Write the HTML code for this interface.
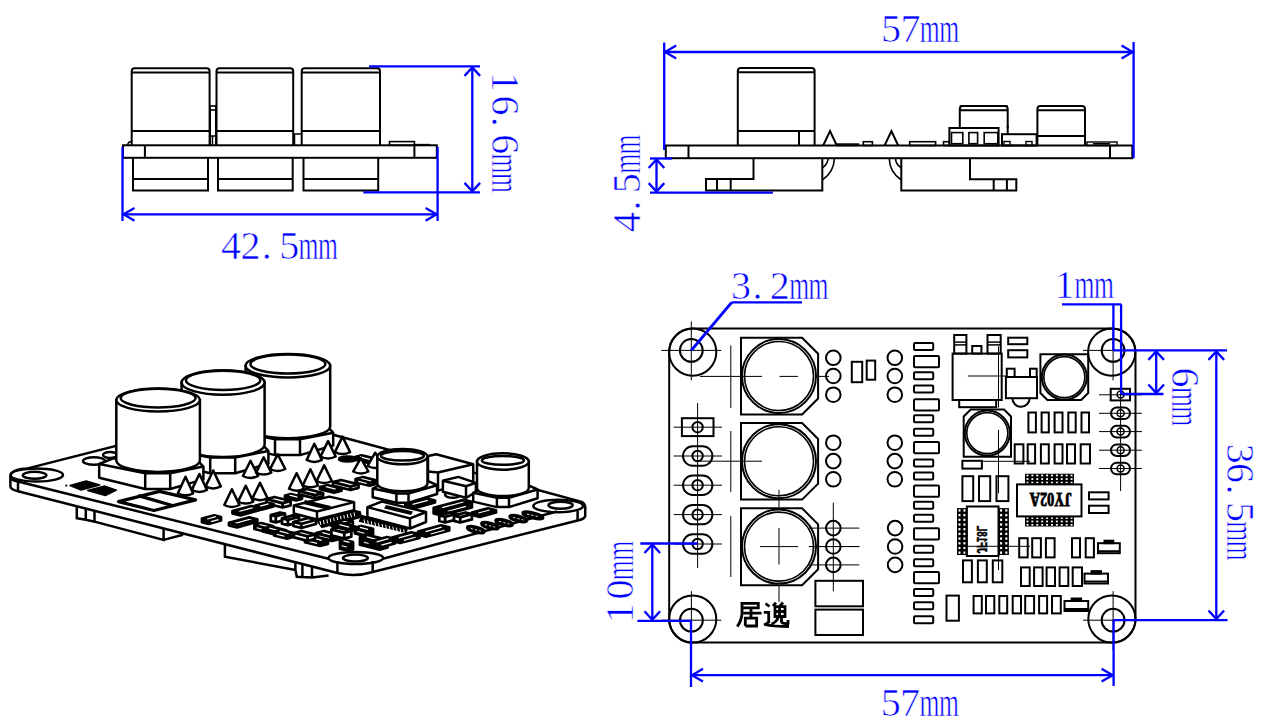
<!DOCTYPE html>
<html><head><meta charset="utf-8"><style>
html,body{margin:0;padding:0;background:#fff;width:1272px;height:723px;overflow:hidden}
svg{display:block}
text{font-family:"Liberation Serif",serif}
</style></head><body>
<svg width="1272" height="723" viewBox="0 0 1272 723" shape-rendering="geometricPrecision">
<rect x="0" y="0" width="1272" height="723" fill="#fff"/>
<path d="M131.7,145.3 L131.7,71.2 Q131.7,68.2 134.7,68.2 L206.6,68.2 Q209.6,68.2 209.6,71.2 L209.6,145.3" stroke="#000" stroke-width="2" fill="none" />
<line x1="131.7" y1="72.4" x2="209.6" y2="72.4" stroke="#000" stroke-width="2" />
<line x1="131.7" y1="131" x2="209.6" y2="131" stroke="#000" stroke-width="2" />
<path d="M216.5,145.3 L216.5,71.2 Q216.5,68.2 219.5,68.2 L290.2,68.2 Q293.2,68.2 293.2,71.2 L293.2,145.3" stroke="#000" stroke-width="2" fill="none" />
<line x1="216.5" y1="72.4" x2="293.2" y2="72.4" stroke="#000" stroke-width="2" />
<line x1="216.5" y1="131" x2="293.2" y2="131" stroke="#000" stroke-width="2" />
<path d="M301.7,145.3 L301.7,71.2 Q301.7,68.2 304.7,68.2 L377,68.2 Q380,68.2 380,71.2 L380,145.3" stroke="#000" stroke-width="2" fill="none" />
<line x1="301.7" y1="72.4" x2="380" y2="72.4" stroke="#000" stroke-width="2" />
<line x1="301.7" y1="131" x2="380" y2="131" stroke="#000" stroke-width="2" />
<rect x="210" y="106" width="6" height="4" rx="0" stroke="#000" stroke-width="1.6" fill="none"/>
<polyline points="210,110 210,145.3" stroke="#000" stroke-width="2" fill="none" stroke-linejoin="miter"/>
<polyline points="216,110 216,145.3" stroke="#000" stroke-width="2" fill="none" stroke-linejoin="miter"/>
<line x1="212.5" y1="136" x2="212.5" y2="145.3" stroke="#000" stroke-width="1.5" />
<line x1="209.6" y1="136" x2="216.5" y2="136" stroke="#000" stroke-width="1.5" />
<line x1="294.5" y1="134" x2="294.5" y2="145.3" stroke="#000" stroke-width="1.5" />
<line x1="294" y1="134" x2="301" y2="134" stroke="#000" stroke-width="1.5" />
<rect x="123" y="145.3" width="313.8" height="12.5" rx="0" stroke="#000" stroke-width="2" fill="none"/>
<line x1="144.9" y1="145.3" x2="144.9" y2="157.8" stroke="#000" stroke-width="2" />
<line x1="414.4" y1="145.3" x2="414.4" y2="157.8" stroke="#000" stroke-width="2" />
<rect x="389.5" y="141.6" width="24.899999999999977" height="3.700000000000017" rx="0" stroke="#000" stroke-width="1.6" fill="none"/>
<line x1="414.4" y1="144.6" x2="430" y2="144.6" stroke="#000" stroke-width="1.5" />
<path d="M127.5,145 Q128,142 131,141.5" stroke="#000" stroke-width="1.4" fill="none" />
<polyline points="133,157.8 133,190.6 208,190.6 208,157.8" stroke="#000" stroke-width="2" fill="none" stroke-linejoin="miter"/>
<line x1="133" y1="179" x2="208" y2="179" stroke="#000" stroke-width="2" />
<polyline points="218,157.8 218,190.6 292.7,190.6 292.7,157.8" stroke="#000" stroke-width="2" fill="none" stroke-linejoin="miter"/>
<line x1="218" y1="179" x2="292.7" y2="179" stroke="#000" stroke-width="2" />
<polyline points="303.5,157.8 303.5,190.6 378.2,190.6 378.2,157.8" stroke="#000" stroke-width="2" fill="none" stroke-linejoin="miter"/>
<line x1="303.5" y1="179" x2="378.2" y2="179" stroke="#000" stroke-width="2" />
<line x1="122.5" y1="147" x2="122.5" y2="221" stroke="#0000ff" stroke-width="2.3" />
<line x1="437.6" y1="147" x2="437.6" y2="221" stroke="#0000ff" stroke-width="2.3" />
<line x1="122.5" y1="214.3" x2="437.6" y2="214.3" stroke="#0000ff" stroke-width="2.3" />
<polyline points="134.5,207.9 123.5,214.3 134.5,220.70000000000002" stroke="#0000ff" stroke-width="2.3" fill="none" stroke-linejoin="miter"/>
<polyline points="425.6,220.70000000000002 436.6,214.3 425.6,207.9" stroke="#0000ff" stroke-width="2.3" fill="none" stroke-linejoin="miter"/>
<line x1="369" y1="66.4" x2="480" y2="66.4" stroke="#0000ff" stroke-width="2.3" />
<line x1="363.4" y1="192.4" x2="480" y2="192.4" stroke="#0000ff" stroke-width="2.3" />
<line x1="472.3" y1="66.4" x2="472.3" y2="192.4" stroke="#0000ff" stroke-width="2.3" />
<polyline points="480.1,75.9 472.3,67.4 464.5,75.9" stroke="#0000ff" stroke-width="2.3" fill="none" stroke-linejoin="miter"/>
<polyline points="464.5,182.9 472.3,191.4 480.1,182.9" stroke="#0000ff" stroke-width="2.3" fill="none" stroke-linejoin="miter"/>
<g transform="translate(221,259.4) rotate(0)" fill="#0000ff" stroke="#fff" stroke-width="0.6" font-family="Liberation Serif" font-size="40"><text x="0.00" y="0" transform="scale(1,1)">4</text><text x="19.40" y="0" transform="scale(1,1)">2</text><text x="40.80" y="0">.</text><text x="58.20" y="0" transform="scale(1,1)">5</text><text transform="translate(77.60,0) scale(0.64,1)">m</text><text transform="translate(97.00,0) scale(0.64,1)">m</text></g>
<g transform="translate(491.5,76) rotate(90)" fill="#0000ff" stroke="#fff" stroke-width="0.6" font-family="Liberation Serif" font-size="40"><text x="-4.00" y="0">1</text><text x="19.40" y="0" transform="scale(1,1)">6</text><text x="40.80" y="0">.</text><text x="58.20" y="0" transform="scale(1,1)">6</text><text transform="translate(77.60,0) scale(0.64,1)">m</text><text transform="translate(97.00,0) scale(0.64,1)">m</text></g>
<rect x="665.8" y="145.5" width="466.5" height="12.699999999999989" rx="0" stroke="#000" stroke-width="2" fill="none"/>
<line x1="688.5" y1="145.5" x2="688.5" y2="158.2" stroke="#000" stroke-width="2" />
<line x1="1110" y1="145.5" x2="1110" y2="158.2" stroke="#000" stroke-width="2" />
<path d="M737.8,145.5 L737.8,71 Q737.8,68 740.8,68 L811.6,68 Q814.6,68 814.6,71 L814.6,145.5" stroke="#000" stroke-width="2" fill="none" />
<line x1="737.8" y1="72.2" x2="814.6" y2="72.2" stroke="#000" stroke-width="2" />
<line x1="737.8" y1="131" x2="814.6" y2="131" stroke="#000" stroke-width="2" />
<line x1="799" y1="131" x2="799" y2="145.5" stroke="#000" stroke-width="2" />
<polyline points="823.2,145.5 830,131 836.8,145.5" stroke="#000" stroke-width="2" fill="none" stroke-linejoin="miter"/>
<polyline points="884.6,145.5 891.4,131 898.1999999999999,145.5" stroke="#000" stroke-width="2" fill="none" stroke-linejoin="miter"/>
<rect x="837.4" y="144" width="21.0" height="1.5" rx="0" stroke="#000" stroke-width="1.4" fill="none"/>
<rect x="863.3" y="141.7" width="9.100000000000023" height="3.8000000000000114" rx="0" stroke="#000" stroke-width="1.6" fill="none"/>
<rect x="909.7" y="141.7" width="25.899999999999977" height="3.8000000000000114" rx="0" stroke="#000" stroke-width="1.6" fill="none"/>
<rect x="943.5" y="141.7" width="5.7999999999999545" height="3.8000000000000114" rx="0" stroke="#000" stroke-width="1.6" fill="none"/>
<path d="M959.8,128 L959.8,109 Q959.8,106 962.8,106 L1004.7,106 Q1007.7,106 1007.7,109 L1007.7,128" stroke="#000" stroke-width="2" fill="none" />
<line x1="959.8" y1="110.2" x2="1007.7" y2="110.2" stroke="#000" stroke-width="2" />
<line x1="959.8" y1="106" x2="1007.7" y2="106" stroke="#000" stroke-width="2" />
<line x1="1007.7" y1="126" x2="1007.7" y2="134.2" stroke="#000" stroke-width="2" />
<rect x="949.4" y="128" width="49.200000000000045" height="17.5" rx="0" stroke="#000" stroke-width="2" fill="none"/>
<rect x="951.5" y="132.6" width="11.299999999999955" height="11.099999999999994" rx="0" stroke="#000" stroke-width="1.6" fill="none"/>
<rect x="968.9" y="132.6" width="8.700000000000045" height="11.099999999999994" rx="0" stroke="#000" stroke-width="1.6" fill="none"/>
<rect x="984.2" y="132.6" width="13.599999999999909" height="11.099999999999994" rx="0" stroke="#000" stroke-width="1.6" fill="none"/>
<rect x="1002" y="134.2" width="34.59999999999991" height="11.300000000000011" rx="0" stroke="#000" stroke-width="2" fill="none"/>
<rect x="1004" y="141.5" width="6" height="4.0" rx="0" stroke="#000" stroke-width="1.4" fill="none"/>
<rect x="1026" y="141.5" width="6" height="4.0" rx="0" stroke="#000" stroke-width="1.4" fill="none"/>
<path d="M1037.4,145.5 L1037.4,109 Q1037.4,106 1040.4,106 L1082,106 Q1085,106 1085,109 L1085,145.5" stroke="#000" stroke-width="2" fill="none" />
<line x1="1037.4" y1="110.2" x2="1085" y2="110.2" stroke="#000" stroke-width="2" />
<line x1="1037.4" y1="135.9" x2="1085" y2="135.9" stroke="#000" stroke-width="2" />
<rect x="1087" y="142" width="30" height="3.5" rx="0" stroke="#000" stroke-width="1.4" fill="none"/>
<line x1="1093" y1="143.8" x2="1110" y2="143.8" stroke="#000" stroke-width="1.6" />
<polyline points="753.5,158.2 753.5,179 706,179 706,190.4 822.3,190.4 822.3,158.2" stroke="#000" stroke-width="2" fill="none" stroke-linejoin="miter"/>
<line x1="717" y1="179" x2="717" y2="190.4" stroke="#000" stroke-width="2" />
<line x1="730.7" y1="179" x2="730.7" y2="190.4" stroke="#000" stroke-width="2" />
<path d="M822.3,180 Q834,172 834.4,158.2" stroke="#000" stroke-width="1.6" fill="none" />
<path d="M822.3,168 Q828,164 828,158.2" stroke="#000" stroke-width="1.6" fill="none" />
<polyline points="901.3,158.2 901.3,190.4 1016.3,190.4 1016.3,179.2 970,179.2 970,158.2" stroke="#000" stroke-width="2" fill="none" stroke-linejoin="miter"/>
<line x1="993.7" y1="179.2" x2="993.7" y2="190.4" stroke="#000" stroke-width="2" />
<line x1="1006.9" y1="179.2" x2="1006.9" y2="190.4" stroke="#000" stroke-width="2" />
<path d="M901.3,180 Q889.5,172 889.2,158.2" stroke="#000" stroke-width="1.6" fill="none" />
<path d="M901.3,168 Q895.5,164 895.5,158.2" stroke="#000" stroke-width="1.6" fill="none" />
<line x1="664.2" y1="42.5" x2="664.2" y2="150" stroke="#0000ff" stroke-width="2.3" />
<line x1="1133.6" y1="42" x2="1133.6" y2="158.2" stroke="#0000ff" stroke-width="2.3" />
<line x1="664.2" y1="52" x2="1133.6" y2="52" stroke="#0000ff" stroke-width="2.3" />
<polyline points="676.2,45.6 665.2,52 676.2,58.4" stroke="#0000ff" stroke-width="2.3" fill="none" stroke-linejoin="miter"/>
<polyline points="1121.6,58.4 1132.6,52 1121.6,45.6" stroke="#0000ff" stroke-width="2.3" fill="none" stroke-linejoin="miter"/>
<g transform="translate(881,41.7) rotate(0)" fill="#0000ff" stroke="#fff" stroke-width="0.6" font-family="Liberation Serif" font-size="40"><text x="0.00" y="0" transform="scale(1,1)">5</text><text x="19.40" y="0" transform="scale(1,1)">7</text><text transform="translate(38.80,0) scale(0.64,1)">m</text><text transform="translate(58.20,0) scale(0.64,1)">m</text></g>
<line x1="650" y1="158.5" x2="672" y2="158.5" stroke="#0000ff" stroke-width="2.3" />
<line x1="650" y1="192.6" x2="772.9" y2="192.6" stroke="#0000ff" stroke-width="2.3" />
<line x1="656.5" y1="158.5" x2="656.5" y2="192.6" stroke="#0000ff" stroke-width="2.3" />
<polyline points="664.3,168.0 656.5,159.5 648.7,168.0" stroke="#0000ff" stroke-width="2.3" fill="none" stroke-linejoin="miter"/>
<polyline points="648.7,183.1 656.5,191.6 664.3,183.1" stroke="#0000ff" stroke-width="2.3" fill="none" stroke-linejoin="miter"/>
<g transform="translate(640,232) rotate(-90)" fill="#0000ff" stroke="#fff" stroke-width="0.6" font-family="Liberation Serif" font-size="40"><text x="0.00" y="0" transform="scale(1,1)">4</text><text x="21.40" y="0">.</text><text x="38.80" y="0" transform="scale(1,1)">5</text><text transform="translate(58.20,0) scale(0.64,1)">m</text><text transform="translate(77.60,0) scale(0.64,1)">m</text></g>
<rect x="669.2" y="328.6" width="466.3" height="314" rx="23.5" stroke="#000" stroke-width="2" fill="none"/>
<circle cx="692.7" cy="352.1" r="23.6" stroke="#000" stroke-width="2" fill="none"/>
<circle cx="691.3" cy="350.4" r="11.4" stroke="#000" stroke-width="2" fill="none"/>
<line x1="661.3" y1="350.4" x2="721.3" y2="350.4" stroke="#000" stroke-width="1.0" />
<line x1="691.3" y1="321.4" x2="691.3" y2="380.4" stroke="#000" stroke-width="1.0" />
<circle cx="1111.7" cy="352.1" r="23.6" stroke="#000" stroke-width="2" fill="none"/>
<circle cx="1113.1" cy="350.4" r="11.4" stroke="#000" stroke-width="2" fill="none"/>
<line x1="1083.1" y1="350.4" x2="1143.1" y2="350.4" stroke="#000" stroke-width="1.0" />
<line x1="1113.1" y1="321.4" x2="1113.1" y2="380.4" stroke="#000" stroke-width="1.0" />
<circle cx="692.7" cy="619.0" r="23.6" stroke="#000" stroke-width="2" fill="none"/>
<circle cx="691.4" cy="620.2" r="11.4" stroke="#000" stroke-width="2" fill="none"/>
<line x1="661.4" y1="620.2" x2="721.4" y2="620.2" stroke="#000" stroke-width="1.0" />
<line x1="691.4" y1="591.2" x2="691.4" y2="650.2" stroke="#000" stroke-width="1.0" />
<circle cx="1111.9" cy="619.0" r="23.6" stroke="#000" stroke-width="2" fill="none"/>
<circle cx="1113.1" cy="620.2" r="11.4" stroke="#000" stroke-width="2" fill="none"/>
<line x1="1083.1" y1="620.2" x2="1143.1" y2="620.2" stroke="#000" stroke-width="1.0" />
<line x1="1113.1" y1="591.2" x2="1113.1" y2="650.2" stroke="#000" stroke-width="1.0" />
<polygon points="741,337.7 802.1,337.7 818.1,353.7 818.1,398.5 802.1,414.5 741,414.5" stroke="#000" stroke-width="2" fill="none" stroke-linejoin="miter"/>
<circle cx="779" cy="376" r="37" stroke="#000" stroke-width="2" fill="none"/>
<circle cx="779" cy="376" r="34.5" stroke="#000" stroke-width="1.6" fill="none"/>
<polygon points="741,423 802.1,423 818.1,439 818.1,483.6 802.1,499.6 741,499.6" stroke="#000" stroke-width="2" fill="none" stroke-linejoin="miter"/>
<circle cx="779" cy="461.2" r="37" stroke="#000" stroke-width="2" fill="none"/>
<circle cx="779" cy="461.2" r="34.5" stroke="#000" stroke-width="1.6" fill="none"/>
<polygon points="741,508.3 802.1,508.3 818.1,524.3 818.1,569.3 802.1,585.3 741,585.3" stroke="#000" stroke-width="2" fill="none" stroke-linejoin="miter"/>
<circle cx="779" cy="546.6" r="37" stroke="#000" stroke-width="2" fill="none"/>
<circle cx="779" cy="546.6" r="34.5" stroke="#000" stroke-width="1.6" fill="none"/>
<line x1="699.8" y1="376.4" x2="762" y2="376.4" stroke="#000" stroke-width="1.0" />
<line x1="779.5" y1="376.4" x2="798" y2="376.4" stroke="#000" stroke-width="1.0" />
<line x1="819" y1="376.4" x2="829" y2="376.4" stroke="#000" stroke-width="1.0" />
<line x1="730.8" y1="345.4" x2="730.8" y2="408" stroke="#000" stroke-width="1.0" />
<line x1="700" y1="461.2" x2="762" y2="461.2" stroke="#000" stroke-width="1.0" />
<line x1="730.8" y1="431" x2="730.8" y2="492" stroke="#000" stroke-width="1.0" />
<line x1="779" y1="489.7" x2="779" y2="507" stroke="#000" stroke-width="1.0" />
<line x1="779" y1="528" x2="779" y2="564.4" stroke="#000" stroke-width="1.0" />
<line x1="760" y1="546.6" x2="798" y2="546.6" stroke="#000" stroke-width="1.0" />
<line x1="809" y1="546.6" x2="859.3" y2="546.6" stroke="#000" stroke-width="1.0" />
<line x1="730.8" y1="516" x2="730.8" y2="577" stroke="#000" stroke-width="1.0" />
<line x1="779" y1="585.3" x2="779" y2="602" stroke="#000" stroke-width="1.0" />
<rect x="681.9" y="418.2" width="31.600000000000023" height="17.900000000000034" rx="0" stroke="#000" stroke-width="2" fill="none"/>
<circle cx="697.6" cy="427.2" r="5.2" stroke="#000" stroke-width="2" fill="none"/>
<line x1="673.7" y1="427.2" x2="722" y2="427.2" stroke="#000" stroke-width="1.0" />
<rect x="683" y="446.3" width="29.4" height="19.4" rx="9.7" stroke="#000" stroke-width="2" fill="none"/>
<circle cx="697.6" cy="456" r="5.2" stroke="#000" stroke-width="2" fill="none"/>
<line x1="673.7" y1="456" x2="722" y2="456" stroke="#000" stroke-width="1.0" />
<rect x="683" y="475.5" width="29.4" height="19.4" rx="9.7" stroke="#000" stroke-width="2" fill="none"/>
<circle cx="697.6" cy="485.2" r="5.2" stroke="#000" stroke-width="2" fill="none"/>
<line x1="673.7" y1="485.2" x2="722" y2="485.2" stroke="#000" stroke-width="1.0" />
<rect x="683" y="504.90000000000003" width="29.4" height="19.4" rx="9.7" stroke="#000" stroke-width="2" fill="none"/>
<circle cx="697.6" cy="514.6" r="5.2" stroke="#000" stroke-width="2" fill="none"/>
<line x1="673.7" y1="514.6" x2="722" y2="514.6" stroke="#000" stroke-width="1.0" />
<rect x="683" y="534.3" width="29.4" height="19.4" rx="9.7" stroke="#000" stroke-width="2" fill="none"/>
<circle cx="697.6" cy="544" r="5.2" stroke="#000" stroke-width="2" fill="none"/>
<line x1="673.7" y1="544" x2="722" y2="544" stroke="#000" stroke-width="1.0" />
<line x1="697.6" y1="403" x2="697.6" y2="568" stroke="#000" stroke-width="1.0" />
<circle cx="833.3" cy="357.8" r="7.3" stroke="#000" stroke-width="2" fill="none"/>
<circle cx="894.8" cy="357.8" r="7.3" stroke="#000" stroke-width="2" fill="none"/>
<circle cx="833.3" cy="376" r="7.3" stroke="#000" stroke-width="2" fill="none"/>
<circle cx="894.8" cy="376" r="7.3" stroke="#000" stroke-width="2" fill="none"/>
<circle cx="833.3" cy="394.7" r="7.3" stroke="#000" stroke-width="2" fill="none"/>
<circle cx="894.8" cy="394.7" r="7.3" stroke="#000" stroke-width="2" fill="none"/>
<circle cx="833.3" cy="442.7" r="7.3" stroke="#000" stroke-width="2" fill="none"/>
<circle cx="894.8" cy="442.7" r="7.3" stroke="#000" stroke-width="2" fill="none"/>
<circle cx="833.3" cy="461.1" r="7.3" stroke="#000" stroke-width="2" fill="none"/>
<circle cx="894.8" cy="461.1" r="7.3" stroke="#000" stroke-width="2" fill="none"/>
<circle cx="833.3" cy="479.3" r="7.3" stroke="#000" stroke-width="2" fill="none"/>
<circle cx="894.8" cy="479.3" r="7.3" stroke="#000" stroke-width="2" fill="none"/>
<circle cx="833.3" cy="528.1" r="7.3" stroke="#000" stroke-width="2" fill="none"/>
<circle cx="895.1" cy="528.1" r="7.3" stroke="#000" stroke-width="2" fill="none"/>
<line x1="808.8" y1="528.1" x2="859.3" y2="528.1" stroke="#000" stroke-width="1.0" />
<circle cx="833.3" cy="546.5" r="7.3" stroke="#000" stroke-width="2" fill="none"/>
<circle cx="895.1" cy="546.5" r="7.3" stroke="#000" stroke-width="2" fill="none"/>
<line x1="808.8" y1="546.5" x2="859.3" y2="546.5" stroke="#000" stroke-width="1.0" />
<circle cx="833.3" cy="564.9" r="7.3" stroke="#000" stroke-width="2" fill="none"/>
<circle cx="895.1" cy="564.9" r="7.3" stroke="#000" stroke-width="2" fill="none"/>
<line x1="808.8" y1="564.9" x2="859.3" y2="564.9" stroke="#000" stroke-width="1.0" />
<line x1="833.3" y1="502.7" x2="833.3" y2="591.2" stroke="#000" stroke-width="1.0" />
<rect x="851.8" y="361.8" width="10.400000000000091" height="20.399999999999977" rx="0" stroke="#000" stroke-width="2" fill="none"/>
<rect x="866.7" y="360.6" width="8.5" height="19.099999999999966" rx="0" stroke="#000" stroke-width="2" fill="none"/>
<rect x="815.4" y="580.8" width="47.60000000000002" height="25.5" rx="0" stroke="#000" stroke-width="2" fill="none"/>
<rect x="815.4" y="609.6" width="47.60000000000002" height="25.399999999999977" rx="0" stroke="#000" stroke-width="2" fill="none"/>
<rect x="914" y="343" width="19.2" height="7" rx="1" stroke="#000" stroke-width="2" fill="none"/>
<rect x="914" y="356" width="25" height="11.2" rx="1" stroke="#000" stroke-width="2" fill="none"/>
<rect x="914" y="372.3" width="19.2" height="7" rx="1" stroke="#000" stroke-width="2" fill="none"/>
<rect x="914" y="385.5" width="19.2" height="7" rx="1" stroke="#000" stroke-width="2" fill="none"/>
<rect x="914" y="399.2" width="25" height="11.2" rx="1" stroke="#000" stroke-width="2" fill="none"/>
<rect x="914" y="415.3" width="19.2" height="7" rx="1" stroke="#000" stroke-width="2" fill="none"/>
<rect x="914" y="428.8" width="19.2" height="7" rx="1" stroke="#000" stroke-width="2" fill="none"/>
<rect x="914" y="442" width="25" height="11.2" rx="1" stroke="#000" stroke-width="2" fill="none"/>
<rect x="914" y="459.4" width="19.2" height="7" rx="1" stroke="#000" stroke-width="2" fill="none"/>
<rect x="914" y="472.6" width="19.2" height="7" rx="1" stroke="#000" stroke-width="2" fill="none"/>
<rect x="914" y="485.5" width="25" height="11.2" rx="1" stroke="#000" stroke-width="2" fill="none"/>
<rect x="914" y="501.8" width="19.2" height="7" rx="1" stroke="#000" stroke-width="2" fill="none"/>
<rect x="914" y="514.8" width="19.2" height="7" rx="1" stroke="#000" stroke-width="2" fill="none"/>
<rect x="914" y="528.3" width="25" height="11.2" rx="1" stroke="#000" stroke-width="2" fill="none"/>
<rect x="914" y="545.8" width="19.2" height="7" rx="1" stroke="#000" stroke-width="2" fill="none"/>
<rect x="914" y="559.3" width="19.2" height="7" rx="1" stroke="#000" stroke-width="2" fill="none"/>
<rect x="914" y="572" width="25" height="11.2" rx="1" stroke="#000" stroke-width="2" fill="none"/>
<rect x="914" y="589" width="19.2" height="7" rx="1" stroke="#000" stroke-width="2" fill="none"/>
<rect x="914" y="602.3" width="19.2" height="7" rx="1" stroke="#000" stroke-width="2" fill="none"/>
<rect x="914" y="616.2" width="19.2" height="7" rx="1" stroke="#000" stroke-width="2" fill="none"/>
<rect x="946.5" y="595.6" width="12.399999999999977" height="25.100000000000023" rx="0" stroke="#000" stroke-width="2" fill="none"/>
<rect x="952.6" y="353.6" width="49.10000000000002" height="46.39999999999998" rx="0" stroke="#000" stroke-width="2" fill="none"/>
<rect x="959.2" y="400" width="37.0" height="7.199999999999989" rx="0" stroke="#000" stroke-width="2" fill="none"/>
<rect x="954.2" y="335" width="12.199999999999932" height="18.600000000000023" rx="0" stroke="#000" stroke-width="2" fill="none"/>
<line x1="954.2" y1="342.1" x2="966.4" y2="342.1" stroke="#000" stroke-width="1.5" />
<line x1="954.2" y1="344.9" x2="966.4" y2="344.9" stroke="#000" stroke-width="1.5" />
<rect x="987.5" y="335" width="13.200000000000045" height="18.600000000000023" rx="0" stroke="#000" stroke-width="2" fill="none"/>
<line x1="987.5" y1="342.1" x2="1000.7" y2="342.1" stroke="#000" stroke-width="1.5" />
<line x1="987.5" y1="344.9" x2="1000.7" y2="344.9" stroke="#000" stroke-width="1.5" />
<rect x="972.2" y="346" width="9.199999999999932" height="7.600000000000023" rx="0" stroke="#000" stroke-width="2" fill="none"/>
<line x1="998.5" y1="346.3" x2="998.5" y2="407.5" stroke="#000" stroke-width="1.0" />
<line x1="967.8" y1="376" x2="1005.9" y2="376" stroke="#000" stroke-width="1.0" />
<rect x="1008.2" y="337.7" width="19.09999999999991" height="6.5" rx="0" stroke="#000" stroke-width="2" fill="none"/>
<rect x="1008.2" y="350.2" width="19.09999999999991" height="7.199999999999989" rx="0" stroke="#000" stroke-width="2" fill="none"/>
<rect x="1005.9" y="377" width="31.100000000000023" height="21.19999999999999" rx="0" stroke="#000" stroke-width="2" fill="none"/>
<rect x="1006.8" y="368.7" width="7.800000000000068" height="8.300000000000011" rx="0" stroke="#000" stroke-width="2" fill="none"/>
<rect x="1030" y="368.7" width="6.7000000000000455" height="8.300000000000011" rx="0" stroke="#000" stroke-width="2" fill="none"/>
<path d="M1012.4,398.2 A8.6,8.6 0 0 0 1029.6,398.2" stroke="#000" stroke-width="2" fill="none" />
<polygon points="1040.4,354.2 1088.2,354.2 1088.2,393 1081.2,400 1047.4,400 1040.4,393" stroke="#000" stroke-width="2" fill="none" stroke-linejoin="miter"/>
<circle cx="1064.3" cy="377.1" r="22.5" stroke="#000" stroke-width="2" fill="none"/>
<circle cx="1064.3" cy="377.1" r="20.5" stroke="#000" stroke-width="1.6" fill="none"/>
<polygon points="963.7,416.5 970.7,409.5 1004,409.5 1011,416.5 1011,456.8 963.7,456.8" stroke="#000" stroke-width="2" fill="none" stroke-linejoin="miter"/>
<circle cx="987.3" cy="433.1" r="22.5" stroke="#000" stroke-width="2" fill="none"/>
<circle cx="987.3" cy="433.1" r="20.5" stroke="#000" stroke-width="1.6" fill="none"/>
<rect x="962.4" y="460.8" width="19.5" height="7.800000000000011" rx="0" stroke="#000" stroke-width="2" fill="none"/>
<line x1="982" y1="461.3" x2="1030" y2="461.3" stroke="#000" stroke-width="1.0" />
<rect x="962.4" y="476.2" width="10.800000000000068" height="24.900000000000034" rx="0" stroke="#000" stroke-width="2" fill="none"/>
<rect x="979" y="476.2" width="11.200000000000045" height="24.900000000000034" rx="0" stroke="#000" stroke-width="2" fill="none"/>
<rect x="996.5" y="476.2" width="11.899999999999977" height="24.900000000000034" rx="0" stroke="#000" stroke-width="2" fill="none"/>
<line x1="998.5" y1="430" x2="998.5" y2="493.2" stroke="#000" stroke-width="1.0" />
<rect x="1028.4" y="412.5" width="7.5" height="19.899999999999977" rx="0" stroke="#000" stroke-width="2" fill="none"/>
<rect x="1041.6" y="412.5" width="7.2000000000000455" height="19.899999999999977" rx="0" stroke="#000" stroke-width="2" fill="none"/>
<rect x="1054.6" y="412.5" width="7.900000000000091" height="19.899999999999977" rx="0" stroke="#000" stroke-width="2" fill="none"/>
<rect x="1068.3" y="412.5" width="7.400000000000091" height="19.899999999999977" rx="0" stroke="#000" stroke-width="2" fill="none"/>
<rect x="1081.5" y="412.5" width="7.5" height="19.899999999999977" rx="0" stroke="#000" stroke-width="2" fill="none"/>
<rect x="1014.7" y="444.3" width="8.699999999999932" height="19.19999999999999" rx="0" stroke="#000" stroke-width="2" fill="none"/>
<rect x="1027.7" y="444.3" width="7.399999999999864" height="19.19999999999999" rx="0" stroke="#000" stroke-width="2" fill="none"/>
<rect x="1040.9" y="444.3" width="7.899999999999864" height="19.19999999999999" rx="0" stroke="#000" stroke-width="2" fill="none"/>
<rect x="1054.6" y="444.3" width="7.900000000000091" height="19.19999999999999" rx="0" stroke="#000" stroke-width="2" fill="none"/>
<rect x="1067" y="444.3" width="8" height="19.19999999999999" rx="0" stroke="#000" stroke-width="2" fill="none"/>
<rect x="1080.7" y="444.3" width="9.299999999999955" height="19.19999999999999" rx="0" stroke="#000" stroke-width="2" fill="none"/>
<rect x="957" y="508.1" width="9.899999999999977" height="46.89999999999998" fill="#000"/>
<rect x="958.49" y="509.27" width="1.98" height="2.34" fill="#fff"/>
<rect x="958.49" y="513.96" width="1.98" height="2.34" fill="#fff"/>
<rect x="958.49" y="518.65" width="1.98" height="2.34" fill="#fff"/>
<rect x="958.49" y="523.34" width="1.98" height="2.34" fill="#fff"/>
<rect x="958.49" y="528.03" width="1.98" height="2.34" fill="#fff"/>
<rect x="958.49" y="532.72" width="1.98" height="2.34" fill="#fff"/>
<rect x="958.49" y="537.41" width="1.98" height="2.34" fill="#fff"/>
<rect x="958.49" y="542.10" width="1.98" height="2.34" fill="#fff"/>
<rect x="958.49" y="546.79" width="1.98" height="2.34" fill="#fff"/>
<rect x="958.49" y="551.48" width="1.98" height="2.34" fill="#fff"/>
<rect x="963.44" y="509.27" width="1.98" height="2.34" fill="#fff"/>
<rect x="963.44" y="513.96" width="1.98" height="2.34" fill="#fff"/>
<rect x="963.44" y="518.65" width="1.98" height="2.34" fill="#fff"/>
<rect x="963.44" y="523.34" width="1.98" height="2.34" fill="#fff"/>
<rect x="963.44" y="528.03" width="1.98" height="2.34" fill="#fff"/>
<rect x="963.44" y="532.72" width="1.98" height="2.34" fill="#fff"/>
<rect x="963.44" y="537.41" width="1.98" height="2.34" fill="#fff"/>
<rect x="963.44" y="542.10" width="1.98" height="2.34" fill="#fff"/>
<rect x="963.44" y="546.79" width="1.98" height="2.34" fill="#fff"/>
<rect x="963.44" y="551.48" width="1.98" height="2.34" fill="#fff"/>
<rect x="998.5" y="508.1" width="10.399999999999977" height="46.89999999999998" fill="#000"/>
<rect x="1000.06" y="509.27" width="2.08" height="2.34" fill="#fff"/>
<rect x="1000.06" y="513.96" width="2.08" height="2.34" fill="#fff"/>
<rect x="1000.06" y="518.65" width="2.08" height="2.34" fill="#fff"/>
<rect x="1000.06" y="523.34" width="2.08" height="2.34" fill="#fff"/>
<rect x="1000.06" y="528.03" width="2.08" height="2.34" fill="#fff"/>
<rect x="1000.06" y="532.72" width="2.08" height="2.34" fill="#fff"/>
<rect x="1000.06" y="537.41" width="2.08" height="2.34" fill="#fff"/>
<rect x="1000.06" y="542.10" width="2.08" height="2.34" fill="#fff"/>
<rect x="1000.06" y="546.79" width="2.08" height="2.34" fill="#fff"/>
<rect x="1000.06" y="551.48" width="2.08" height="2.34" fill="#fff"/>
<rect x="1005.26" y="509.27" width="2.08" height="2.34" fill="#fff"/>
<rect x="1005.26" y="513.96" width="2.08" height="2.34" fill="#fff"/>
<rect x="1005.26" y="518.65" width="2.08" height="2.34" fill="#fff"/>
<rect x="1005.26" y="523.34" width="2.08" height="2.34" fill="#fff"/>
<rect x="1005.26" y="528.03" width="2.08" height="2.34" fill="#fff"/>
<rect x="1005.26" y="532.72" width="2.08" height="2.34" fill="#fff"/>
<rect x="1005.26" y="537.41" width="2.08" height="2.34" fill="#fff"/>
<rect x="1005.26" y="542.10" width="2.08" height="2.34" fill="#fff"/>
<rect x="1005.26" y="546.79" width="2.08" height="2.34" fill="#fff"/>
<rect x="1005.26" y="551.48" width="2.08" height="2.34" fill="#fff"/>
<rect x="966.9" y="506.5" width="31.600000000000023" height="49.5" rx="0" stroke="#000" stroke-width="2" fill="none"/>
<text transform="translate(976.5,539.5) rotate(-90) scale(1,-1)" style="font-family:Liberation Sans" font-weight="bold" font-size="14" text-anchor="middle" fill="#000" stroke="#000" stroke-width="0.5" textLength="28" lengthAdjust="spacingAndGlyphs">JF18L</text>
<line x1="958" y1="546.3" x2="1030" y2="546.3" stroke="#000" stroke-width="1.0" />
<line x1="998.5" y1="556" x2="998.5" y2="570" stroke="#000" stroke-width="1.0" />
<rect x="1025" y="473.7" width="49" height="10.699999999999989" fill="#000"/>
<rect x="1026.47" y="474.59" width="1.96" height="1.78" fill="#fff"/>
<rect x="1026.47" y="478.16" width="1.96" height="1.78" fill="#fff"/>
<rect x="1026.47" y="481.72" width="1.96" height="1.78" fill="#fff"/>
<rect x="1031.37" y="474.59" width="1.96" height="1.78" fill="#fff"/>
<rect x="1031.37" y="478.16" width="1.96" height="1.78" fill="#fff"/>
<rect x="1031.37" y="481.72" width="1.96" height="1.78" fill="#fff"/>
<rect x="1036.27" y="474.59" width="1.96" height="1.78" fill="#fff"/>
<rect x="1036.27" y="478.16" width="1.96" height="1.78" fill="#fff"/>
<rect x="1036.27" y="481.72" width="1.96" height="1.78" fill="#fff"/>
<rect x="1041.17" y="474.59" width="1.96" height="1.78" fill="#fff"/>
<rect x="1041.17" y="478.16" width="1.96" height="1.78" fill="#fff"/>
<rect x="1041.17" y="481.72" width="1.96" height="1.78" fill="#fff"/>
<rect x="1046.07" y="474.59" width="1.96" height="1.78" fill="#fff"/>
<rect x="1046.07" y="478.16" width="1.96" height="1.78" fill="#fff"/>
<rect x="1046.07" y="481.72" width="1.96" height="1.78" fill="#fff"/>
<rect x="1050.97" y="474.59" width="1.96" height="1.78" fill="#fff"/>
<rect x="1050.97" y="478.16" width="1.96" height="1.78" fill="#fff"/>
<rect x="1050.97" y="481.72" width="1.96" height="1.78" fill="#fff"/>
<rect x="1055.87" y="474.59" width="1.96" height="1.78" fill="#fff"/>
<rect x="1055.87" y="478.16" width="1.96" height="1.78" fill="#fff"/>
<rect x="1055.87" y="481.72" width="1.96" height="1.78" fill="#fff"/>
<rect x="1060.77" y="474.59" width="1.96" height="1.78" fill="#fff"/>
<rect x="1060.77" y="478.16" width="1.96" height="1.78" fill="#fff"/>
<rect x="1060.77" y="481.72" width="1.96" height="1.78" fill="#fff"/>
<rect x="1065.67" y="474.59" width="1.96" height="1.78" fill="#fff"/>
<rect x="1065.67" y="478.16" width="1.96" height="1.78" fill="#fff"/>
<rect x="1065.67" y="481.72" width="1.96" height="1.78" fill="#fff"/>
<rect x="1070.57" y="474.59" width="1.96" height="1.78" fill="#fff"/>
<rect x="1070.57" y="478.16" width="1.96" height="1.78" fill="#fff"/>
<rect x="1070.57" y="481.72" width="1.96" height="1.78" fill="#fff"/>
<rect x="1025" y="516.4" width="49" height="10.100000000000023" fill="#000"/>
<rect x="1026.47" y="517.24" width="1.96" height="1.68" fill="#fff"/>
<rect x="1026.47" y="520.61" width="1.96" height="1.68" fill="#fff"/>
<rect x="1026.47" y="523.98" width="1.96" height="1.68" fill="#fff"/>
<rect x="1031.37" y="517.24" width="1.96" height="1.68" fill="#fff"/>
<rect x="1031.37" y="520.61" width="1.96" height="1.68" fill="#fff"/>
<rect x="1031.37" y="523.98" width="1.96" height="1.68" fill="#fff"/>
<rect x="1036.27" y="517.24" width="1.96" height="1.68" fill="#fff"/>
<rect x="1036.27" y="520.61" width="1.96" height="1.68" fill="#fff"/>
<rect x="1036.27" y="523.98" width="1.96" height="1.68" fill="#fff"/>
<rect x="1041.17" y="517.24" width="1.96" height="1.68" fill="#fff"/>
<rect x="1041.17" y="520.61" width="1.96" height="1.68" fill="#fff"/>
<rect x="1041.17" y="523.98" width="1.96" height="1.68" fill="#fff"/>
<rect x="1046.07" y="517.24" width="1.96" height="1.68" fill="#fff"/>
<rect x="1046.07" y="520.61" width="1.96" height="1.68" fill="#fff"/>
<rect x="1046.07" y="523.98" width="1.96" height="1.68" fill="#fff"/>
<rect x="1050.97" y="517.24" width="1.96" height="1.68" fill="#fff"/>
<rect x="1050.97" y="520.61" width="1.96" height="1.68" fill="#fff"/>
<rect x="1050.97" y="523.98" width="1.96" height="1.68" fill="#fff"/>
<rect x="1055.87" y="517.24" width="1.96" height="1.68" fill="#fff"/>
<rect x="1055.87" y="520.61" width="1.96" height="1.68" fill="#fff"/>
<rect x="1055.87" y="523.98" width="1.96" height="1.68" fill="#fff"/>
<rect x="1060.77" y="517.24" width="1.96" height="1.68" fill="#fff"/>
<rect x="1060.77" y="520.61" width="1.96" height="1.68" fill="#fff"/>
<rect x="1060.77" y="523.98" width="1.96" height="1.68" fill="#fff"/>
<rect x="1065.67" y="517.24" width="1.96" height="1.68" fill="#fff"/>
<rect x="1065.67" y="520.61" width="1.96" height="1.68" fill="#fff"/>
<rect x="1065.67" y="523.98" width="1.96" height="1.68" fill="#fff"/>
<rect x="1070.57" y="517.24" width="1.96" height="1.68" fill="#fff"/>
<rect x="1070.57" y="520.61" width="1.96" height="1.68" fill="#fff"/>
<rect x="1070.57" y="523.98" width="1.96" height="1.68" fill="#fff"/>
<rect x="1017" y="484.4" width="64.5" height="32.0" rx="0" stroke="#000" stroke-width="2" fill="none"/>
<text transform="translate(1050.7,493.2) rotate(180)" font-family="Liberation Serif" font-weight="bold" font-size="19" text-anchor="middle" fill="#000" stroke="#000" stroke-width="0.8" textLength="42" lengthAdjust="spacingAndGlyphs">JY02A</text>
<rect x="1089" y="492.3" width="19.59999999999991" height="7.099999999999966" rx="0" stroke="#000" stroke-width="2" fill="none"/>
<rect x="1089" y="505.7" width="19.59999999999991" height="7.300000000000011" rx="0" stroke="#000" stroke-width="2" fill="none"/>
<rect x="1019.2" y="538.2" width="8.5" height="19.199999999999932" rx="0" stroke="#000" stroke-width="2" fill="none"/>
<rect x="1032.2" y="538.2" width="8.700000000000045" height="19.199999999999932" rx="0" stroke="#000" stroke-width="2" fill="none"/>
<rect x="1045.9" y="538.2" width="8.699999999999818" height="19.199999999999932" rx="0" stroke="#000" stroke-width="2" fill="none"/>
<rect x="1072" y="538.2" width="8" height="19.199999999999932" rx="0" stroke="#000" stroke-width="2" fill="none"/>
<rect x="1085.7" y="538.2" width="8.200000000000045" height="19.199999999999932" rx="0" stroke="#000" stroke-width="2" fill="none"/>
<rect x="963" y="560.4" width="8.899999999999977" height="21.899999999999977" rx="0" stroke="#000" stroke-width="2" fill="none"/>
<rect x="977.9" y="560.4" width="8.899999999999977" height="21.899999999999977" rx="0" stroke="#000" stroke-width="2" fill="none"/>
<rect x="992.8" y="560.4" width="9.5" height="21.899999999999977" rx="0" stroke="#000" stroke-width="2" fill="none"/>
<rect x="1021" y="567.4" width="8.700000000000045" height="18.600000000000023" rx="0" stroke="#000" stroke-width="2" fill="none"/>
<rect x="1034.1" y="567.4" width="8.5" height="18.600000000000023" rx="0" stroke="#000" stroke-width="2" fill="none"/>
<rect x="1046.6" y="567.4" width="8.400000000000091" height="18.600000000000023" rx="0" stroke="#000" stroke-width="2" fill="none"/>
<rect x="1059.6" y="567.4" width="8.700000000000045" height="18.600000000000023" rx="0" stroke="#000" stroke-width="2" fill="none"/>
<rect x="1072.7" y="567.4" width="9.299999999999955" height="18.600000000000023" rx="0" stroke="#000" stroke-width="2" fill="none"/>
<rect x="973.6" y="596" width="8.199999999999932" height="17.399999999999977" rx="0" stroke="#000" stroke-width="2" fill="none"/>
<rect x="986" y="596" width="8.299999999999955" height="17.399999999999977" rx="0" stroke="#000" stroke-width="2" fill="none"/>
<rect x="999.3" y="596" width="7.900000000000091" height="17.399999999999977" rx="0" stroke="#000" stroke-width="2" fill="none"/>
<rect x="1012.7" y="596" width="8.299999999999955" height="17.399999999999977" rx="0" stroke="#000" stroke-width="2" fill="none"/>
<rect x="1025.2" y="596" width="8.899999999999864" height="17.399999999999977" rx="0" stroke="#000" stroke-width="2" fill="none"/>
<rect x="1039.1" y="596" width="8.0" height="17.399999999999977" rx="0" stroke="#000" stroke-width="2" fill="none"/>
<rect x="1052" y="596" width="8.799999999999955" height="17.399999999999977" rx="0" stroke="#000" stroke-width="2" fill="none"/>
<rect x="1098" y="543.2" width="21.799999999999955" height="10.0" rx="0" stroke="#000" stroke-width="2" fill="none"/>
<rect x="1104.54" y="540.7" width="8.720000000000027" height="2.5" rx="0" stroke="#000" stroke-width="2" fill="#000"/>
<line x1="1098" y1="551.2" x2="1119.8" y2="551.2" stroke="#000" stroke-width="2" />
<rect x="1084.5" y="573.6" width="23.5" height="9.899999999999977" rx="0" stroke="#000" stroke-width="2" fill="none"/>
<rect x="1091.55" y="571.1" width="9.400000000000091" height="2.5" rx="0" stroke="#000" stroke-width="2" fill="#000"/>
<line x1="1084.5" y1="581.5" x2="1108" y2="581.5" stroke="#000" stroke-width="2" />
<rect x="1064.5" y="601" width="23.700000000000045" height="10" rx="0" stroke="#000" stroke-width="2" fill="none"/>
<rect x="1071.6100000000001" y="598.5" width="9.480000000000018" height="2.5" rx="0" stroke="#000" stroke-width="2" fill="#000"/>
<line x1="1064.5" y1="609" x2="1088.2" y2="609" stroke="#000" stroke-width="2" />
<rect x="1110.7" y="388.8" width="19.299999999999955" height="11.599999999999966" rx="0" stroke="#000" stroke-width="2" fill="none"/>
<circle cx="1120.6" cy="394.6" r="3.5" stroke="#000" stroke-width="1.5" fill="none"/>
<line x1="1099" y1="394.8" x2="1142" y2="394.8" stroke="#000" stroke-width="1.0" />
<rect x="1111" y="407.5" width="19" height="11.6" rx="5.8" stroke="#000" stroke-width="2" fill="none"/>
<circle cx="1120.6" cy="413.3" r="3.5" stroke="#000" stroke-width="1.5" fill="none"/>
<line x1="1099" y1="413.3" x2="1142" y2="413.3" stroke="#000" stroke-width="1.0" />
<rect x="1111" y="425.8" width="19" height="11.6" rx="5.8" stroke="#000" stroke-width="2" fill="none"/>
<circle cx="1120.6" cy="431.6" r="3.5" stroke="#000" stroke-width="1.5" fill="none"/>
<line x1="1099" y1="431.6" x2="1142" y2="431.6" stroke="#000" stroke-width="1.0" />
<rect x="1111" y="444.4" width="19" height="11.6" rx="5.8" stroke="#000" stroke-width="2" fill="none"/>
<circle cx="1120.6" cy="450.2" r="3.5" stroke="#000" stroke-width="1.5" fill="none"/>
<line x1="1099" y1="450.2" x2="1142" y2="450.2" stroke="#000" stroke-width="1.0" />
<rect x="1111" y="462.7" width="19" height="11.6" rx="5.8" stroke="#000" stroke-width="2" fill="none"/>
<circle cx="1120.6" cy="468.5" r="3.5" stroke="#000" stroke-width="1.5" fill="none"/>
<line x1="1099" y1="468.5" x2="1142" y2="468.5" stroke="#000" stroke-width="1.0" />
<line x1="1120.6" y1="380" x2="1120.6" y2="491" stroke="#000" stroke-width="1.0" />
<path d="M740.5,603.4 L758.3,603.4 L758.3,607.8 L742,607.8 M742,603.4 L742,614 Q741,622 737.2,626.5 M743.5,613.2 L761.5,613.2 M751,608 L751,618.5 M745.3,626 L745.3,618.2 L756.6,618.2 L756.6,626 L745.3,626" stroke="#000" stroke-width="2.8" fill="none" />
<path d="M765.5,603.5 L769.5,606.5 M763.8,612.4 L768.7,612.4 L768.7,622 Q766,624 764,625 M765,624.5 Q772,626.5 789,626.5 M776,602.6 L773,606 M775,606.6 L785,606.6 L785,616.5 L775,616.5 Z M775,611.5 L785,611.5 M779.5,606.6 L779.5,616.5 M780,606 L783,602.5 M778.5,616.5 Q777,622 771.5,624 M781.5,616.5 L781.5,621.5 Q782,624 788,623.5 L788,620" stroke="#000" stroke-width="2.8" fill="none" />
<line x1="691.3" y1="350.4" x2="731.7" y2="302.4" stroke="#0000ff" stroke-width="3" />
<line x1="731.7" y1="302.4" x2="802" y2="302.4" stroke="#0000ff" stroke-width="2.3" />
<g transform="translate(731,299.4) rotate(0)" fill="#0000ff" stroke="#fff" stroke-width="0.6" font-family="Liberation Serif" font-size="40"><text x="0.00" y="0" transform="scale(1,1)">3</text><text x="21.40" y="0">.</text><text x="38.80" y="0" transform="scale(1,1)">2</text><text transform="translate(58.20,0) scale(0.64,1)">m</text><text transform="translate(77.60,0) scale(0.64,1)">m</text></g>
<line x1="1062" y1="304.4" x2="1121.3" y2="304.4" stroke="#0000ff" stroke-width="2.3" />
<line x1="1113.4" y1="304.4" x2="1113.4" y2="350.4" stroke="#0000ff" stroke-width="2.3" />
<line x1="1121.1" y1="304.4" x2="1121.1" y2="394" stroke="#0000ff" stroke-width="2.3" />
<line x1="1113.4" y1="350.4" x2="1227" y2="350.4" stroke="#0000ff" stroke-width="2.3" />
<line x1="1121.1" y1="394" x2="1163.5" y2="394" stroke="#0000ff" stroke-width="2.3" />
<line x1="1156.2" y1="350.4" x2="1156.2" y2="394" stroke="#0000ff" stroke-width="2.3" />
<polyline points="1164.0,359.9 1156.2,351.4 1148.4,359.9" stroke="#0000ff" stroke-width="2.3" fill="none" stroke-linejoin="miter"/>
<polyline points="1148.4,384.5 1156.2,393 1164.0,384.5" stroke="#0000ff" stroke-width="2.3" fill="none" stroke-linejoin="miter"/>
<g transform="translate(1058.6,298) rotate(0)" fill="#0000ff" stroke="#fff" stroke-width="0.6" font-family="Liberation Serif" font-size="40"><text x="-4.00" y="0">1</text><text transform="translate(15.90,0) scale(0.64,1)">m</text><text transform="translate(35.30,0) scale(0.64,1)">m</text></g>
<g transform="translate(1171.6,367.5) rotate(90)" fill="#0000ff" stroke="#fff" stroke-width="0.6" font-family="Liberation Serif" font-size="40"><text x="0.00" y="0" transform="scale(1,1)">6</text><text transform="translate(19.40,0) scale(0.64,1)">m</text><text transform="translate(38.80,0) scale(0.64,1)">m</text></g>
<line x1="1216.3" y1="350.4" x2="1216.3" y2="620" stroke="#0000ff" stroke-width="2.3" />
<line x1="1113.4" y1="620.2" x2="1227.6" y2="620.2" stroke="#0000ff" stroke-width="2.3" />
<polyline points="1224.1,359.9 1216.3,351.4 1208.5,359.9" stroke="#0000ff" stroke-width="2.3" fill="none" stroke-linejoin="miter"/>
<polyline points="1208.5,610.5 1216.3,619 1224.1,610.5" stroke="#0000ff" stroke-width="2.3" fill="none" stroke-linejoin="miter"/>
<g transform="translate(1227,443.7) rotate(90)" fill="#0000ff" stroke="#fff" stroke-width="0.6" font-family="Liberation Serif" font-size="40"><text x="0.00" y="0" transform="scale(1,1)">3</text><text x="19.40" y="0" transform="scale(1,1)">6</text><text x="40.80" y="0">.</text><text x="58.20" y="0" transform="scale(1,1)">5</text><text transform="translate(77.60,0) scale(0.64,1)">m</text><text transform="translate(97.00,0) scale(0.64,1)">m</text></g>
<line x1="640.3" y1="543.5" x2="697.6" y2="543.5" stroke="#0000ff" stroke-width="2.3" />
<line x1="637.4" y1="620.8" x2="691.4" y2="620.8" stroke="#0000ff" stroke-width="2.3" />
<line x1="652.3" y1="543.5" x2="652.3" y2="620.8" stroke="#0000ff" stroke-width="2.3" />
<polyline points="660.0999999999999,553.0 652.3,544.5 644.5,553.0" stroke="#0000ff" stroke-width="2.3" fill="none" stroke-linejoin="miter"/>
<polyline points="644.5,611.3 652.3,619.8 660.0999999999999,611.3" stroke="#0000ff" stroke-width="2.3" fill="none" stroke-linejoin="miter"/>
<g transform="translate(633,619) rotate(-90)" fill="#0000ff" stroke="#fff" stroke-width="0.6" font-family="Liberation Serif" font-size="40"><text x="-4.00" y="0">1</text><text x="19.40" y="0" transform="scale(1,1)">0</text><text transform="translate(38.80,0) scale(0.64,1)">m</text><text transform="translate(58.20,0) scale(0.64,1)">m</text></g>
<line x1="691" y1="620.2" x2="691" y2="687" stroke="#0000ff" stroke-width="2.3" />
<line x1="1113.6" y1="620.2" x2="1113.6" y2="686" stroke="#0000ff" stroke-width="2.3" />
<line x1="691" y1="675.2" x2="1113.6" y2="675.2" stroke="#0000ff" stroke-width="2.3" />
<polyline points="703.0,668.8000000000001 692,675.2 703.0,681.6" stroke="#0000ff" stroke-width="2.3" fill="none" stroke-linejoin="miter"/>
<polyline points="1101.6,681.6 1112.6,675.2 1101.6,668.8000000000001" stroke="#0000ff" stroke-width="2.3" fill="none" stroke-linejoin="miter"/>
<g transform="translate(880.7,716) rotate(0)" fill="#0000ff" stroke="#fff" stroke-width="0.6" font-family="Liberation Serif" font-size="40"><text x="0.00" y="0" transform="scale(1,1)">5</text><text x="19.40" y="0" transform="scale(1,1)">7</text><text transform="translate(38.80,0) scale(0.64,1)">m</text><text transform="translate(58.20,0) scale(0.64,1)">m</text></g>
<polygon points="76.8,503.0 76.8,518.2 94.5,521.6 163.6,539.9 183.0,534.7 183.0,520.0" fill="#fff" stroke="#000" stroke-width="0" stroke-linejoin="round"/>
<path d="M76.8,503 L76.8,518.2 L85.8,519.8 L85.8,505 M85.8,519.8 L94.5,521.6 L94.5,507 M94.5,521.6 L163.6,539.9 L163.6,527 M163.6,539.9 L183,534.7" stroke="#000" stroke-width="2.5" fill="none" />
<polygon points="224.9,540.0 224.9,556.8 295.4,569.9 296.8,576.8 312.0,576.8 328.6,575.4 328.6,560.0" fill="#fff" stroke="#000" stroke-width="0" stroke-linejoin="round"/>
<path d="M224.9,540 L224.9,556.8 L295.4,569.9 L295.4,560 M295.4,569.9 L296.8,576.8 L312,577.5 L328.6,575.4 M302.4,563 L302.4,576.8 M312,565 L312,577.5" stroke="#000" stroke-width="2.5" fill="none" />
<path d="M27.7,468.4 L249,412 L581.7,501.8 Q586,504 585.2,510 L585.2,516.3 Q584,519.5 577.6,520.5 L372.7,572 Q355,577.5 337.4,573 L18,491.2 Q10.4,489.5 10.4,486.3 L10.4,476.7 Q10.4,469 27.7,468.4 Z" stroke="#000" stroke-width="2.5" fill="#fff" />
<path d="M10.4,476.7 Q11,480.5 18,481.5 L328.4,558.8" stroke="#000" stroke-width="2.5" fill="none" />
<line x1="18" y1="481.5" x2="18" y2="491.2" stroke="#000" stroke-width="2.5" />
<path d="M383,558.8 L556.8,511.5" stroke="#000" stroke-width="2.5" fill="none" />
<line x1="337.4" y1="561" x2="337.4" y2="573" stroke="#000" stroke-width="2.5" />
<line x1="372.7" y1="561" x2="372.7" y2="572" stroke="#000" stroke-width="2.5" />
<line x1="577.6" y1="510.8" x2="577.6" y2="520.5" stroke="#000" stroke-width="2.5" />
<ellipse cx="36.7" cy="475" rx="26.3" ry="6.5" fill="none" stroke="#000" stroke-width="2.5"/>
<ellipse cx="34.6" cy="475.3" rx="11.8" ry="3.5" fill="none" stroke="#000" stroke-width="2.5"/>
<ellipse cx="355.8" cy="558" rx="27.3" ry="6" fill="none" stroke="#000" stroke-width="2.5"/>
<ellipse cx="355.4" cy="558.1" rx="12.4" ry="3.5" fill="none" stroke="#000" stroke-width="2.5"/>
<ellipse cx="558.2" cy="506" rx="24.9" ry="6.2" fill="none" stroke="#000" stroke-width="2.5"/>
<ellipse cx="560.6" cy="505.2" rx="12.1" ry="3.5" fill="none" stroke="#000" stroke-width="2.5"/>
<ellipse cx="94" cy="461" rx="11" ry="3.8" fill="none" stroke="#000" stroke-width="2.5"/>
<ellipse cx="110" cy="455" rx="7" ry="3" fill="none" stroke="#000" stroke-width="2.5"/>
<polygon points="70,485.5 86.2,481 99.7,485 81.1,490.1" fill="#000" stroke="#000" stroke-width="1.5" stroke-linejoin="round"/>
<polygon points="87.7,490.6 104.8,486.1 116.4,490.1 105.3,495.6" fill="#000" stroke="#000" stroke-width="1.5" stroke-linejoin="round"/>
<circle cx="66.3" cy="485.6" r="1.1" fill="#000"/>
<polygon points="118.5,501.6 159.5,491.4 195.6,499.9 154.0,510.5" fill="#fff" stroke="#000" stroke-width="3.2" stroke-linejoin="round"/>
<line x1="138.3" y1="495.6" x2="172.3" y2="505.5" stroke="#000" stroke-width="3.2" />
<polygon points="243.0,424.5 229.0,430.1 229.0,443.9 275.0,455.1 300.0,455.1 333.2,445.5 333.2,432.7 325.2,424.5" fill="#fff" stroke="#000" stroke-width="2.5" stroke-linejoin="round"/>
<path d="M229.0,430.1 L275.0,439.3 L300.0,439.3 L333.2,432.7 M275.0,439.3 L275.0,455.1 M300.0,439.3 L300.0,455.1 " stroke="#000" stroke-width="2.5" fill="none" />
<path d="M245.59999999999997,365.7 L245.59999999999997,426.5 A42.3,11.7 0 0 0 330.2,426.5 L330.2,365.7 Z" fill="#fff" stroke="#000" stroke-width="2.5"/>
<ellipse cx="287.9" cy="365.7" rx="42.3" ry="11.7" fill="#fff" stroke="#000" stroke-width="2.5"/>
<ellipse cx="287.9" cy="364.09999999999997" rx="37.5" ry="9.5" fill="#fff" stroke="#000" stroke-width="2.5"/>
<path d="M306.7,459.9 L314.3,443.8 L321.9,459.9 Q314.3,463.9 306.7,459.9 Z" fill="#fff" stroke="#000" stroke-width="2.5" stroke-linejoin="round"/>
<path d="M320.5,456.5 L328.1,441.1 L335.7,456.5 Q328.1,460.5 320.5,456.5 Z" fill="#fff" stroke="#000" stroke-width="2.5" stroke-linejoin="round"/>
<path d="M334.9,452.1 L342.5,436.6 L350.1,452.1 Q342.5,456.1 334.9,452.1 Z" fill="#fff" stroke="#000" stroke-width="2.5" stroke-linejoin="round"/>
<polygon points="178.2,442.7 164.2,448.3 164.2,462.1 210.2,473.3 235.2,473.3 268.4,463.7 268.4,450.9 260.4,442.7" fill="#fff" stroke="#000" stroke-width="2.5" stroke-linejoin="round"/>
<path d="M164.2,448.3 L210.2,457.5 L235.2,457.5 L268.4,450.9 M210.2,457.5 L210.2,473.3 M235.2,457.5 L235.2,473.3 " stroke="#000" stroke-width="2.5" fill="none" />
<path d="M181.6,382.5 L181.6,444.7 A41.5,12.2 0 0 0 264.6,444.7 L264.6,382.5 Z" fill="#fff" stroke="#000" stroke-width="2.5"/>
<ellipse cx="223.1" cy="382.5" rx="41.5" ry="12.2" fill="#fff" stroke="#000" stroke-width="2.5"/>
<ellipse cx="223.1" cy="380.3" rx="37.2" ry="9.6" fill="#fff" stroke="#000" stroke-width="2.5"/>
<path d="M242.9,476.0 L250.5,460.8 L258.1,476.0 Q250.5,480.0 242.9,476.0 Z" fill="#fff" stroke="#000" stroke-width="2.5" stroke-linejoin="round"/>
<path d="M256.1,472.6 L263.7,457.3 L271.3,472.6 Q263.7,476.6 256.1,472.6 Z" fill="#fff" stroke="#000" stroke-width="2.5" stroke-linejoin="round"/>
<path d="M270.1,469.0 L277.7,454.4 L285.3,469.0 Q277.7,473.0 270.1,469.0 Z" fill="#fff" stroke="#000" stroke-width="2.5" stroke-linejoin="round"/>
<polygon points="113.2,458.4 99.2,464.0 99.2,477.8 145.2,489.0 170.2,489.0 203.4,479.4 203.4,466.6 195.4,458.4" fill="#fff" stroke="#000" stroke-width="2.5" stroke-linejoin="round"/>
<path d="M99.2,464.0 L145.2,473.2 L170.2,473.2 L203.4,466.6 M145.2,473.2 L145.2,489.0 M170.2,473.2 L170.2,489.0 " stroke="#000" stroke-width="2.5" fill="none" />
<path d="M116.3,400 L116.3,460.4 A41.8,11.5 0 0 0 199.89999999999998,460.4 L199.89999999999998,400 Z" fill="#fff" stroke="#000" stroke-width="2.5"/>
<ellipse cx="158.1" cy="400" rx="41.8" ry="11.5" fill="#fff" stroke="#000" stroke-width="2.5"/>
<ellipse cx="158.1" cy="398.1" rx="37.5" ry="9.3" fill="#fff" stroke="#000" stroke-width="2.5"/>
<path d="M177.9,493.3 L185.5,476.7 L193.1,493.3 Q185.5,497.3 177.9,493.3 Z" fill="#fff" stroke="#000" stroke-width="2.5" stroke-linejoin="round"/>
<path d="M191.8,489.9 L199.4,474.0 L207.0,489.9 Q199.4,493.9 191.8,489.9 Z" fill="#fff" stroke="#000" stroke-width="2.5" stroke-linejoin="round"/>
<path d="M205.6,486.4 L213.2,470.5 L220.8,486.4 Q213.2,490.4 205.6,486.4 Z" fill="#fff" stroke="#000" stroke-width="2.5" stroke-linejoin="round"/>
<ellipse cx="347.5" cy="459" rx="9" ry="3" fill="#000" stroke="#000" stroke-width="1.5"/>
<polygon points="354.0,457.4 361.7,455.3 376.0,458.9 376.0,460.9 368.3,463.0 354.0,459.4" fill="#000" stroke="#000" stroke-width="2.8" stroke-linejoin="round"/>
<line x1="360.0" y1="456.9" x2="370.0" y2="459.4" stroke="#fff" stroke-width="1.2"/>
<polygon points="428.0,456.0 436.3,454.3 473.2,464.2 473.2,480.7 438.0,490.6 428.0,488.0" fill="#fff" stroke="#000" stroke-width="2.5" stroke-linejoin="round"/>
<path d="M428.0,471.4 L438.0,472.5 L473.2,464.2 M438.0,472.5 L438.0,490.6 " stroke="#000" stroke-width="2.5" fill="none" />
<path d="M353.2,471.5 L360.8,458.2 L368.4,471.5 Q360.8,475.5 353.2,471.5 Z" fill="#fff" stroke="#000" stroke-width="2.5" stroke-linejoin="round"/>
<path d="M367.6,466.0 L375.2,452.7 L382.8,466.0 Q375.2,470.0 367.6,466.0 Z" fill="#fff" stroke="#000" stroke-width="2.5" stroke-linejoin="round"/>
<polygon points="355.6,479.0 363.1,477.0 377.0,480.5 377.0,483.6 369.5,485.6 355.6,482.1" fill="#000" stroke="#000" stroke-width="2.8" stroke-linejoin="round"/>
<line x1="361.4" y1="478.5" x2="371.2" y2="481.0" stroke="#fff" stroke-width="1.2"/>
<line x1="358.4" y1="481.4" x2="366.7" y2="483.5" stroke="#fff" stroke-width="1.1"/>
<polygon points="333.0,482.2 341.0,480.0 358.5,484.4 358.5,487.8 350.5,490.0 333.0,485.6" fill="#fff" stroke="#000" stroke-width="2.8" stroke-linejoin="round"/>
<path d="M333.0,482.2 L350.5,486.5 L358.5,484.4 M350.5,486.5 L350.5,490.0 " stroke="#000" stroke-width="2.8" fill="none" />
<polygon points="320.0,487.1 327.5,485.1 341.5,488.6 341.5,490.6 334.0,492.6 320.0,489.1" fill="#000" stroke="#000" stroke-width="2.8" stroke-linejoin="round"/>
<line x1="325.9" y1="486.6" x2="335.6" y2="489.1" stroke="#fff" stroke-width="1.2"/>
<polygon points="299.0,491.2 307.0,489.0 323.0,493.0 323.0,496.1 315.0,498.3 299.0,494.3" fill="#fff" stroke="#000" stroke-width="2.8" stroke-linejoin="round"/>
<path d="M299.0,491.2 L315.0,495.2 L323.0,493.0 M315.0,495.2 L315.0,498.3 " stroke="#000" stroke-width="2.8" fill="none" />
<path d="M289.0,488.7 L296.6,473.2 L304.2,488.7 Q296.6,492.7 289.0,488.7 Z" fill="#fff" stroke="#000" stroke-width="2.5" stroke-linejoin="round"/>
<path d="M302.8,485.3 L310.4,469.3 L318.0,485.3 Q310.4,489.3 302.8,485.3 Z" fill="#fff" stroke="#000" stroke-width="2.5" stroke-linejoin="round"/>
<path d="M316.6,481.0 L324.2,465.4 L331.8,481.0 Q324.2,485.0 316.6,481.0 Z" fill="#fff" stroke="#000" stroke-width="2.5" stroke-linejoin="round"/>
<path d="M224.3,505.0 L231.9,489.2 L239.5,505.0 Q231.9,509.0 224.3,505.0 Z" fill="#fff" stroke="#000" stroke-width="2.5" stroke-linejoin="round"/>
<path d="M238.1,501.6 L245.7,485.7 L253.3,501.6 Q245.7,505.6 238.1,501.6 Z" fill="#fff" stroke="#000" stroke-width="2.5" stroke-linejoin="round"/>
<path d="M252.4,498.2 L260.0,482.9 L267.6,498.2 Q260.0,502.2 252.4,498.2 Z" fill="#fff" stroke="#000" stroke-width="2.5" stroke-linejoin="round"/>
<polygon points="386.7,481.6 372.7,488.5 372.7,497.3 396.4,502.8 408.5,502.8 437.1,494.0 437.1,485.2 429.1,481.6" fill="#fff" stroke="#000" stroke-width="2.5" stroke-linejoin="round"/>
<path d="M372.7,488.5 L396.4,493.5 L408.5,493.5 L437.1,485.2 M396.4,493.5 L396.4,502.8 M408.5,493.5 L408.5,502.8 " stroke="#000" stroke-width="2.5" fill="none" />
<path d="M377.29999999999995,456.6 L377.29999999999995,483.6 A25.1,7.6 0 0 0 427.5,483.6 L427.5,456.6 Z" fill="#fff" stroke="#000" stroke-width="2.5"/>
<ellipse cx="402.4" cy="456.6" rx="25.1" ry="7.6" fill="#fff" stroke="#000" stroke-width="2.5"/>
<ellipse cx="402.4" cy="455.8" rx="21.5" ry="4.8" fill="#fff" stroke="#000" stroke-width="2.5"/>
<ellipse cx="452.7" cy="494.5" rx="7.7" ry="3.3" fill="#fff" stroke="#000" stroke-width="2.5"/>
<polygon points="442.9,480.7 458.3,476.9 475.9,482.9 475.9,492.0 466.0,497.8 442.9,491.7" fill="#fff" stroke="#000" stroke-width="2.5" stroke-linejoin="round"/>
<path d="M442.9,480.7 L466.0,486.2 L475.9,482.9 M466.0,486.2 L466.0,497.8 " stroke="#000" stroke-width="2.5" fill="none" />
<polygon points="487.2,485.9 473.2,492.8 473.2,501.6 496.9,507.1 509.0,507.1 537.6,498.3 537.6,489.5 529.6,485.9" fill="#fff" stroke="#000" stroke-width="2.5" stroke-linejoin="round"/>
<path d="M473.2,492.8 L496.9,497.8 L509.0,497.8 L537.6,489.5 M496.9,497.8 L496.9,507.1 M509.0,497.8 L509.0,507.1 " stroke="#000" stroke-width="2.5" fill="none" />
<path d="M477.0,461.5 L477.0,487.9 A25.9,8.2 0 0 0 528.8,487.9 L528.8,461.5 Z" fill="#fff" stroke="#000" stroke-width="2.5"/>
<ellipse cx="502.9" cy="461.5" rx="25.9" ry="8.2" fill="#fff" stroke="#000" stroke-width="2.5"/>
<ellipse cx="502.9" cy="460.4" rx="21" ry="4.4" fill="#fff" stroke="#000" stroke-width="2.5"/>
<polygon points="285.0,495.6 290.9,494.0 302.0,496.8 302.0,498.8 296.1,500.4 285.0,497.6" fill="#000" stroke="#000" stroke-width="2.8" stroke-linejoin="round"/>
<line x1="289.6" y1="495.2" x2="297.4" y2="497.2" stroke="#fff" stroke-width="1.2"/>
<polygon points="266.5,499.2 274.5,497.0 290.6,501.0 290.6,505.3 282.6,507.5 266.5,503.5" fill="#fff" stroke="#000" stroke-width="2.8" stroke-linejoin="round"/>
<path d="M266.5,499.2 L282.6,503.2 L290.6,501.0 M282.6,503.2 L282.6,507.5 " stroke="#000" stroke-width="2.8" fill="none" />
<polygon points="255.0,505.8 267.1,502.5 273.6,504.1 273.6,506.3 261.5,509.6 255.0,508.0" fill="#000" stroke="#000" stroke-width="2.8" stroke-linejoin="round"/>
<line x1="260.1" y1="506.1" x2="268.5" y2="503.8" stroke="#fff" stroke-width="1.2"/>
<polygon points="232.5,511.1 251.4,506.0 259.4,508.0 259.4,510.2 240.5,515.3 232.5,513.3" fill="#fff" stroke="#000" stroke-width="2.8" stroke-linejoin="round"/>
<path d="M232.5,511.1 L240.5,513.1 L259.4,508.0 M240.5,513.1 L240.5,515.3 " stroke="#000" stroke-width="2.8" fill="none" />
<polygon points="202.0,518.6 214.3,515.3 221.0,517.0 221.0,520.5 208.7,523.8 202.0,522.1" fill="#000" stroke="#000" stroke-width="2.8" stroke-linejoin="round"/>
<line x1="207.2" y1="519.0" x2="215.8" y2="516.6" stroke="#fff" stroke-width="1.2"/>
<line x1="211.1" y1="521.6" x2="218.5" y2="519.6" stroke="#fff" stroke-width="1.1"/>
<polygon points="229.0,522.9 249.3,517.4 257.3,519.4 257.3,521.8 237.0,527.3 229.0,525.3" fill="#fff" stroke="#000" stroke-width="2.8" stroke-linejoin="round"/>
<path d="M229.0,522.9 L237.0,524.9 L257.3,519.4 M237.0,524.9 L237.0,527.3 " stroke="#000" stroke-width="2.8" fill="none" />
<polygon points="405.4,504.3 427.0,498.5 435.0,500.5 435.0,502.5 413.4,508.3 405.4,506.3" fill="#000" stroke="#000" stroke-width="2.8" stroke-linejoin="round"/>
<line x1="412.6" y1="504.4" x2="427.8" y2="500.4" stroke="#fff" stroke-width="1.2"/>
<polygon points="433.7,507.9 463.9,499.8 471.9,501.8 471.9,507.3 441.7,515.4 433.7,513.4" fill="#000" stroke="#000" stroke-width="2.8" stroke-linejoin="round"/>
<line x1="442.2" y1="507.7" x2="463.4" y2="502.0" stroke="#fff" stroke-width="1.2"/>
<line x1="447.7" y1="511.3" x2="465.9" y2="506.4" stroke="#fff" stroke-width="1.1"/>
<polygon points="471.9,512.6 488.0,508.3 496.0,510.3 496.0,512.5 479.9,516.8 471.9,514.8" fill="#000" stroke="#000" stroke-width="2.8" stroke-linejoin="round"/>
<line x1="478.3" y1="513.0" x2="489.6" y2="510.0" stroke="#fff" stroke-width="1.2"/>
<polygon points="439.3,515.4 450.2,512.5 456.0,514.0 456.0,519.6 445.1,522.5 439.3,521.0" fill="#fff" stroke="#000" stroke-width="2.8" stroke-linejoin="round"/>
<path d="M439.3,515.4 L445.1,516.9 L456.0,514.0 M445.1,516.9 L445.1,522.5 " stroke="#000" stroke-width="2.8" fill="none" />
<polygon points="454.0,515.6 465.6,512.5 471.9,514.1 471.9,519.4 460.3,522.5 454.0,520.9" fill="#fff" stroke="#000" stroke-width="2.8" stroke-linejoin="round"/>
<path d="M454.0,515.6 L460.3,517.2 L471.9,514.1 M460.3,517.2 L460.3,522.5 " stroke="#000" stroke-width="2.8" fill="none" />
<polygon points="293.8,505.5 329.2,496.6 354.1,502.1 354.1,510.1 317.0,519.5 293.8,513.5" fill="#fff" stroke="#000" stroke-width="2.5" stroke-linejoin="round"/>
<path d="M293.8,505.5 L317.0,511.5 L354.1,502.1 M317.0,511.5 L317.0,519.5 " stroke="#000" stroke-width="2.5" fill="none" />
<polygon points="317,520 354,510.5 360,512 361,517 322,527" fill="#000" stroke="#000" stroke-width="2"/>
<line x1="320.0" y1="521.0" x2="320.8" y2="525.0" stroke="#fff" stroke-width="1"/>
<line x1="323.4" y1="520.1" x2="324.2" y2="524.1" stroke="#fff" stroke-width="1"/>
<line x1="326.8" y1="519.3" x2="327.6" y2="523.3" stroke="#fff" stroke-width="1"/>
<line x1="330.2" y1="518.4" x2="331.0" y2="522.4" stroke="#fff" stroke-width="1"/>
<line x1="333.6" y1="517.6" x2="334.4" y2="521.6" stroke="#fff" stroke-width="1"/>
<line x1="337.0" y1="516.7" x2="337.8" y2="520.7" stroke="#fff" stroke-width="1"/>
<line x1="340.4" y1="515.8" x2="341.2" y2="519.8" stroke="#fff" stroke-width="1"/>
<line x1="343.8" y1="515.0" x2="344.6" y2="519.0" stroke="#fff" stroke-width="1"/>
<line x1="347.2" y1="514.1" x2="348.0" y2="518.1" stroke="#fff" stroke-width="1"/>
<line x1="350.6" y1="513.3" x2="351.4" y2="517.3" stroke="#fff" stroke-width="1"/>
<line x1="354.0" y1="512.4" x2="354.8" y2="516.4" stroke="#fff" stroke-width="1"/>
<polygon points="305,500 331,506 329,510 303,504" fill="#000"/>
<polygon points="367.4,507.1 381.8,501.6 426.0,512.0 426.0,522.0 410.0,528.5 367.4,517.1" fill="#fff" stroke="#000" stroke-width="2.5" stroke-linejoin="round"/>
<path d="M367.4,507.1 L410.0,518.5 L426.0,512.0 M410.0,518.5 L410.0,528.5 " stroke="#000" stroke-width="2.5" fill="none" />
<polygon points="362,516 407,528 406,532 360,521" fill="#000" stroke="#000" stroke-width="2"/>
<line x1="364.0" y1="519.5" x2="364.8" y2="523.5" stroke="#fff" stroke-width="1"/>
<line x1="367.6" y1="520.4" x2="368.4" y2="524.4" stroke="#fff" stroke-width="1"/>
<line x1="371.2" y1="521.3" x2="372.0" y2="525.3" stroke="#fff" stroke-width="1"/>
<line x1="374.8" y1="522.2" x2="375.6" y2="526.2" stroke="#fff" stroke-width="1"/>
<line x1="378.4" y1="523.1" x2="379.2" y2="527.1" stroke="#fff" stroke-width="1"/>
<line x1="382.0" y1="524.0" x2="382.8" y2="528.0" stroke="#fff" stroke-width="1"/>
<line x1="385.6" y1="524.9" x2="386.4" y2="528.9" stroke="#fff" stroke-width="1"/>
<line x1="389.2" y1="525.8" x2="390.0" y2="529.8" stroke="#fff" stroke-width="1"/>
<line x1="392.8" y1="526.7" x2="393.6" y2="530.7" stroke="#fff" stroke-width="1"/>
<line x1="396.4" y1="527.6" x2="397.2" y2="531.6" stroke="#fff" stroke-width="1"/>
<line x1="400.0" y1="528.5" x2="400.8" y2="532.5" stroke="#fff" stroke-width="1"/>
<line x1="403.6" y1="529.4" x2="404.4" y2="533.4" stroke="#fff" stroke-width="1"/>
<polygon points="386,505 413,511.5 411,515 384,508.5" fill="#000"/>
<polygon points="270.8,515.0 280.0,512.5 285.0,513.7 285.0,519.9 275.8,522.4 270.8,521.2" fill="#fff" stroke="#000" stroke-width="2.8" stroke-linejoin="round"/>
<path d="M270.8,515.0 L275.8,516.2 L285.0,513.7 M275.8,516.2 L275.8,522.4 " stroke="#000" stroke-width="2.8" fill="none" />
<polygon points="282.0,518.3 293.1,515.3 299.0,516.8 299.0,522.2 287.9,525.2 282.0,523.7" fill="#fff" stroke="#000" stroke-width="2.8" stroke-linejoin="round"/>
<path d="M282.0,518.3 L287.9,519.8 L299.0,516.8 M287.9,519.8 L287.9,525.2 " stroke="#000" stroke-width="2.8" fill="none" />
<polygon points="293.4,522.0 308.1,518.0 316.0,520.0 316.0,524.0 301.3,528.0 293.4,526.0" fill="#fff" stroke="#000" stroke-width="2.8" stroke-linejoin="round"/>
<path d="M293.4,522.0 L301.3,523.9 L316.0,520.0 M301.3,523.9 L301.3,528.0 " stroke="#000" stroke-width="2.8" fill="none" />
<polygon points="331.6,523.2 345.4,519.5 352.8,521.4 352.8,524.3 339.0,528.0 331.6,526.1" fill="#fff" stroke="#000" stroke-width="2.8" stroke-linejoin="round"/>
<path d="M331.6,523.2 L339.0,525.1 L352.8,521.4 M339.0,525.1 L339.0,528.0 " stroke="#000" stroke-width="2.8" fill="none" />
<polygon points="254.4,525.0 260.9,523.2 273.0,526.2 273.0,530.1 266.5,531.9 254.4,528.9" fill="#000" stroke="#000" stroke-width="2.8" stroke-linejoin="round"/>
<line x1="259.5" y1="524.5" x2="267.9" y2="526.7" stroke="#fff" stroke-width="1.2"/>
<line x1="256.8" y1="527.7" x2="264.1" y2="529.5" stroke="#fff" stroke-width="1.1"/>
<polygon points="263.0,528.7 271.0,526.5 286.3,530.3 286.3,533.1 278.3,535.3 263.0,531.5" fill="#000" stroke="#000" stroke-width="2.8" stroke-linejoin="round"/>
<line x1="269.3" y1="528.2" x2="280.0" y2="530.8" stroke="#fff" stroke-width="1.2"/>
<polygon points="274.2,531.7 281.1,529.8 294.0,533.0 294.0,536.7 287.1,538.6 274.2,535.4" fill="#000" stroke="#000" stroke-width="2.8" stroke-linejoin="round"/>
<line x1="279.6" y1="531.2" x2="288.6" y2="533.5" stroke="#fff" stroke-width="1.2"/>
<line x1="276.8" y1="534.4" x2="284.5" y2="536.3" stroke="#fff" stroke-width="1.1"/>
<polygon points="355.0,527.7 361.3,526.0 373.0,528.9 373.0,534.7 366.7,536.4 355.0,533.5" fill="#000" stroke="#000" stroke-width="2.8" stroke-linejoin="round"/>
<line x1="359.9" y1="527.3" x2="368.1" y2="529.3" stroke="#fff" stroke-width="1.2"/>
<line x1="357.3" y1="531.5" x2="364.4" y2="533.2" stroke="#fff" stroke-width="1.1"/>
<polygon points="333.6,525.2 341.1,523.2 355.0,526.7 355.0,530.0 347.5,532.0 333.6,528.5" fill="#000" stroke="#000" stroke-width="2.8" stroke-linejoin="round"/>
<line x1="339.4" y1="524.7" x2="349.2" y2="527.2" stroke="#fff" stroke-width="1.2"/>
<line x1="336.4" y1="527.7" x2="344.7" y2="529.8" stroke="#fff" stroke-width="1.1"/>
<polygon points="316.0,533.2 324.0,531.0 340.0,535.0 340.0,538.8 332.0,541.0 316.0,537.0" fill="#000" stroke="#000" stroke-width="2.8" stroke-linejoin="round"/>
<line x1="322.4" y1="532.7" x2="333.6" y2="535.5" stroke="#fff" stroke-width="1.2"/>
<line x1="319.2" y1="536.1" x2="328.8" y2="538.5" stroke="#fff" stroke-width="1.1"/>
<polygon points="305.0,538.2 313.0,536.0 328.0,539.8 328.0,543.8 320.0,546.0 305.0,542.2" fill="#000" stroke="#000" stroke-width="2.8" stroke-linejoin="round"/>
<line x1="311.2" y1="537.6" x2="321.8" y2="540.3" stroke="#fff" stroke-width="1.2"/>
<line x1="308.0" y1="541.2" x2="317.0" y2="543.4" stroke="#fff" stroke-width="1.1"/>
<polygon points="294.0,533.0 301.4,531.0 315.0,534.4 315.0,538.8 307.6,540.8 294.0,537.4" fill="#fff" stroke="#000" stroke-width="2.8" stroke-linejoin="round"/>
<path d="M294.0,533.0 L307.6,536.4 L315.0,534.4 M307.6,536.4 L307.6,540.8 " stroke="#000" stroke-width="2.8" fill="none" />
<polygon points="331.4,529.5 338.4,527.6 351.3,530.8 351.3,536.7 344.3,538.6 331.4,535.4" fill="#fff" stroke="#000" stroke-width="2.8" stroke-linejoin="round"/>
<path d="M331.4,529.5 L344.3,532.7 L351.3,530.8 M344.3,532.7 L344.3,538.6 " stroke="#000" stroke-width="2.8" fill="none" />
<polygon points="340.0,541.2 344.6,540.0 353.0,542.1 353.0,549.5 348.4,550.7 340.0,548.6" fill="#000" stroke="#000" stroke-width="2.8" stroke-linejoin="round"/>
<line x1="343.5" y1="540.9" x2="349.5" y2="542.4" stroke="#fff" stroke-width="1.2"/>
<line x1="341.7" y1="545.7" x2="346.8" y2="547.0" stroke="#fff" stroke-width="1.1"/>
<polygon points="360.0,537.2 368.0,535.0 387.6,539.9 387.6,547.4 379.6,549.6 360.0,544.7" fill="#000" stroke="#000" stroke-width="2.8" stroke-linejoin="round"/>
<line x1="366.9" y1="536.8" x2="380.7" y2="540.3" stroke="#fff" stroke-width="1.2"/>
<line x1="363.9" y1="542.3" x2="375.7" y2="545.2" stroke="#fff" stroke-width="1.1"/>
<polygon points="418.0,531.5 441.2,525.3 449.2,527.3 449.2,530.4 426.0,536.6 418.0,534.6" fill="#000" stroke="#000" stroke-width="2.8" stroke-linejoin="round"/>
<line x1="425.5" y1="531.6" x2="441.7" y2="527.2" stroke="#fff" stroke-width="1.2"/>
<line x1="430.6" y1="534.0" x2="444.6" y2="530.2" stroke="#fff" stroke-width="1.1"/>
<polygon points="392.0,537.6 411.5,532.4 419.5,534.4 419.5,537.8 400.0,543.0 392.0,541.0" fill="#000" stroke="#000" stroke-width="2.8" stroke-linejoin="round"/>
<line x1="398.9" y1="537.9" x2="412.6" y2="534.2" stroke="#fff" stroke-width="1.2"/>
<line x1="403.9" y1="540.4" x2="415.6" y2="537.3" stroke="#fff" stroke-width="1.1"/>
<polygon points="370.0,541.6 387.0,537.0 395.0,539.0 395.0,543.4 378.0,548.0 370.0,546.0" fill="#000" stroke="#000" stroke-width="2.8" stroke-linejoin="round"/>
<line x1="376.6" y1="541.9" x2="388.4" y2="538.7" stroke="#fff" stroke-width="1.2"/>
<line x1="381.4" y1="545.1" x2="391.6" y2="542.4" stroke="#fff" stroke-width="1.1"/>
<ellipse cx="475.8" cy="529.7" rx="9.3" ry="3.1" transform="rotate(14 475.8 529.7)" fill="#000" stroke="#000" stroke-width="1.8"/>
<line x1="470.7" y1="528.5" x2="480.9" y2="531.1" stroke="#fff" stroke-width="0.9" stroke-dasharray="2.2 2.2"/>
<ellipse cx="490" cy="525.7" rx="9.3" ry="3.1" transform="rotate(14 490 525.7)" fill="#000" stroke="#000" stroke-width="1.8"/>
<line x1="484.9" y1="524.5" x2="495.1" y2="527.1" stroke="#fff" stroke-width="0.9" stroke-dasharray="2.2 2.2"/>
<ellipse cx="504.2" cy="522.6" rx="9.3" ry="3.1" transform="rotate(14 504.2 522.6)" fill="#000" stroke="#000" stroke-width="1.8"/>
<line x1="499.1" y1="521.4" x2="509.3" y2="524.0" stroke="#fff" stroke-width="0.9" stroke-dasharray="2.2 2.2"/>
<ellipse cx="518.3" cy="518.6" rx="9.3" ry="3.1" transform="rotate(14 518.3 518.6)" fill="#000" stroke="#000" stroke-width="1.8"/>
<line x1="513.2" y1="517.4" x2="523.4" y2="520.0" stroke="#fff" stroke-width="0.9" stroke-dasharray="2.2 2.2"/>
<ellipse cx="532.9" cy="515.3" rx="11" ry="3.1" transform="rotate(14 532.9 515.3)" fill="#000" stroke="#000" stroke-width="1.8"/>
<line x1="526.9" y1="514.1" x2="538.9" y2="516.7" stroke="#fff" stroke-width="0.9" stroke-dasharray="2.2 2.2"/>
</svg></body></html>
